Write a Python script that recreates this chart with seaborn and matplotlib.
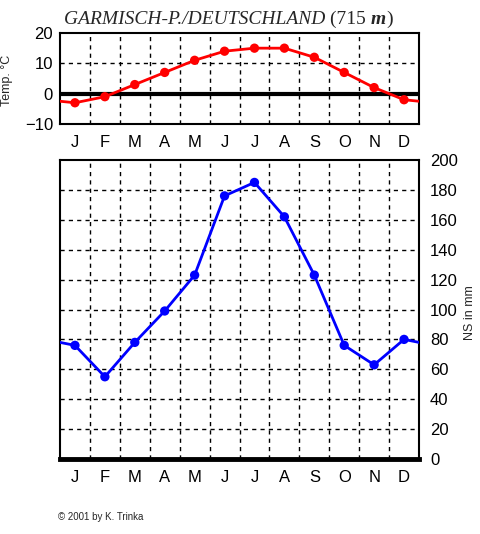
import numpy as np
import pandas as pd
import matplotlib
matplotlib.use("Agg")
import matplotlib.pyplot as plt
import seaborn as sns

months = ["J", "F", "M", "A", "M", "J", "J", "A", "S", "O", "N", "D"]
temp = [-3.0, -1.0, 3.0, 7.0, 11.0, 14.0, 15.0, 15.0, 12.0, 7.0, 2.0, -2.0]
precip = [76, 55, 78, 99, 123, 176, 185, 162, 123, 76, 63, 80]
temp_ticks = [-10, 0, 10, 20]
precip_ticks = [0, 20, 40, 60, 80, 100, 120, 140, 160, 180, 200]
title_parts = [("GARMISCH-P./DEUTSCHLAND ", "italic", "normal"),
               ("(715 ", "normal", "normal"),
               ("m", "italic", "bold"),
               (")", "normal", "normal")]

sns.set_theme(style="white")
plt.rcParams['font.family'] = ['Liberation Sans Narrow', 'Liberation Sans', 'DejaVu Sans']

fig = plt.figure(figsize=(4.8, 5.34), dpi=100)
W, H = 480, 534

def ax_at(l, t, r, b):
    return fig.add_axes([l / W, 1 - b / H, (r - l) / W, (b - t) / H])

xc = np.arange(12) + 0.5
def wrap(vals):
    v = np.asarray(vals, dtype=float)
    return np.concatenate([[-0.5], xc, [12.5]]), np.concatenate([[v[-1]], v, [v[0]]])

def style_axis(ax, ymin, ymax, yticks, grid_y, side):
    ax.set_xlim(0, 12)
    ax.set_ylim(ymin, ymax)
    for x in range(1, 12):
        ax.axvline(x, color="black", lw=1, ls=(0, (3, 3)), zorder=1)
    for y in grid_y:
        ax.axhline(y, color="black", lw=1, ls=(0, (3, 3)), zorder=1)
    ax.set_xticks(xc)
    ax.set_xticklabels(months, fontsize=12)
    ax.set_yticks(yticks)
    ax.set_yticklabels([str(t) if t >= 0 else "\u2212" + str(-t) for t in yticks], fontsize=12)
    ax.tick_params(axis="both", length=0, pad=8, colors="black")
    if side == "right":
        ax.yaxis.tick_right()
        ax.tick_params(axis="y", pad=8)
    else:
        ax.tick_params(axis="y", pad=5)
    for s in ax.spines.values():
        s.set_color("black")
        s.set_linewidth(1.5)

# Temperature panel
ax1 = ax_at(60, 33, 419, 124)
style_axis(ax1, -10, 20, temp_ticks, [10], "left")
ax1.axhline(0, color="black", lw=3, zorder=2)
tx, ty = wrap(temp)
sns.lineplot(x=tx, y=ty, ax=ax1, color="#ff0000", lw=2, zorder=3, sort=False)
sns.scatterplot(x=xc, y=temp, ax=ax1, color="#ff0000", s=45, edgecolor="none", zorder=4)
ax1.set_xlim(0, 12)
ax1.set_ylim(-10, 20)
ax1.set_xlabel("")
ax1.set_ylabel("")
fig.text(7 / W, 1 - 80 / H, "Temp. \u00b0C", rotation=90, ha="center", va="center", fontsize=9)

# Precipitation panel
ax2 = ax_at(60, 160, 419, 459)
style_axis(ax2, 0, 200, precip_ticks, precip_ticks[1:-1], "right")
ax2.spines["bottom"].set_linewidth(3.5)
px, py = wrap(precip)
sns.lineplot(x=px, y=py, ax=ax2, color="#0000ff", lw=2, zorder=3, sort=False)
sns.scatterplot(x=xc, y=precip, ax=ax2, color="#0000ff", s=45, edgecolor="none", zorder=4)
ax2.set_xlim(0, 12)
ax2.set_ylim(0, 200)
ax2.set_xlabel("")
ax2.set_ylabel("")
fig.text(470 / W, 1 - 313 / H, "NS in mm", rotation=90, ha="center", va="center", fontsize=9)

# Title built from pieces with mixed styles
fig.canvas.draw()
renderer = fig.canvas.get_renderer()
xpos = 64 / W
for txt, st, wt in title_parts:
    t = fig.text(xpos, 1 - 19 / H, txt, ha="left", va="center", fontsize=14,
                 family=["Liberation Serif", "DejaVu Serif"], style=st, weight=wt)
    bb = t.get_window_extent(renderer=renderer)
    xpos += bb.width / W

fig.text(58 / W, 1 - 517 / H, "\u00a9 2001 by K. Trinka", ha="left", va="center", fontsize=7)

fig.savefig("out.png", dpi=100, facecolor="white")
